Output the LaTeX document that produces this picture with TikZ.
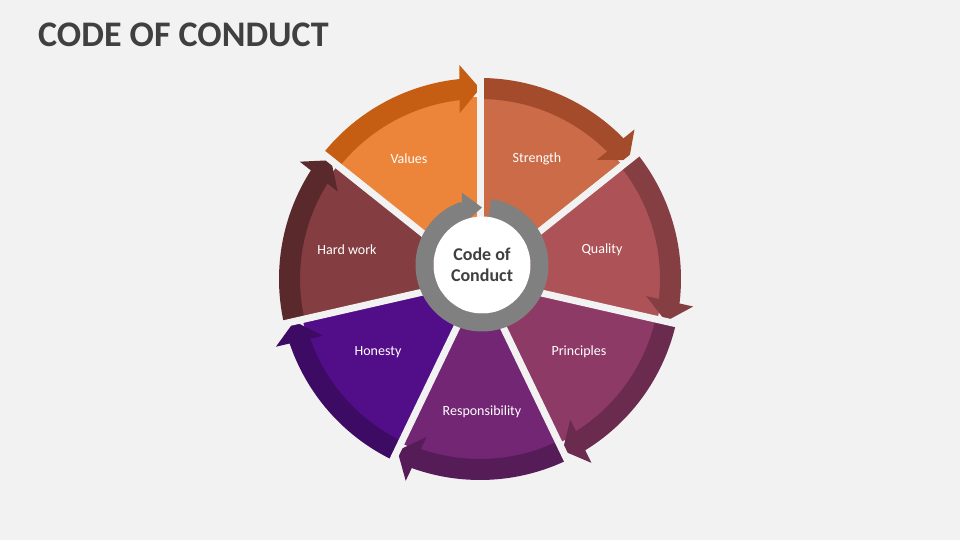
\documentclass[tikz,border=0pt]{standalone}
\usepackage{fontspec}
\setmainfont{Carlito}
\usetikzlibrary{calc}

\definecolor{bgcol}{HTML}{F2F2F2}
\definecolor{titlegrey}{HTML}{404040}
\definecolor{ringgrey}{HTML}{808080}
\definecolor{valL}{HTML}{EC8439}
\definecolor{valD}{HTML}{C55E13}
\definecolor{strL}{HTML}{CB6B47}
\definecolor{strD}{HTML}{A34B2B}
\definecolor{quaL}{HTML}{AD5358}
\definecolor{quaD}{HTML}{853E42}
\definecolor{priL}{HTML}{8E3A66}
\definecolor{priD}{HTML}{6A2B4E}
\definecolor{resL}{HTML}{722674}
\definecolor{resD}{HTML}{561C58}
\definecolor{honL}{HTML}{520E88}
\definecolor{honD}{HTML}{3E0B64}
\definecolor{hwL}{HTML}{843D40}
\definecolor{hwD}{HTML}{5A292B}

\begin{document}
\begin{tikzpicture}[
		x=1pt, y=1pt,
		gap/.style={line width=7pt, bgcol},
		ring/.style={line width=18pt, ringgrey},
		seglabel/.style={text=white, inner sep=0pt, font=\fontsize{14}{16}\selectfont},
		centertext/.style={text=titlegrey, align=center, font=\bfseries\fontsize{18}{21}\selectfont},
		title/.style={text=titlegrey, inner sep=0pt, font=\bfseries\fontsize{36}{40}\selectfont}
	]
	% 背景
	\fill[bgcol] (-480,-261) rectangle (480,279);
	\useasboundingbox (-480,-261) rectangle (480,279);

	% 标题
	\node[title, anchor=base west] (title) at (-442,232) {CODE OF CONDUCT};

	% 扇形和弧形箭头
	\foreach \k/\lc/\dc in {0/valL/valD, 1/strL/strD, 2/quaL/quaD, 3/priL/priD,
			4/resL/resD, 5/honL/honD, 6/hwL/hwD}{
		\pgfmathsetmacro\aa{141.4286-51.4286*\k}
		\pgfmathsetmacro\ab{\aa-51.4286}
		\pgfmathsetmacro\ae{\ab+5}
		\pgfmathsetmacro\ao{\ab+5.5}
		\pgfmathsetmacro\ai{\ab+7}
		\fill[\lc] (0,0) -- (\aa:182) arc[start angle=\aa, end angle=\ab, radius=182] -- cycle;
		\fill[\dc] (\aa:180) arc[start angle=\aa, end angle=\ae, radius=180]
			-- (\ae:201) arc[start angle=\ae, end angle=\aa, radius=201] -- cycle;
		\fill[\dc] (\ai:167) -- (\ab:190.5) -- (\ao:215) -- cycle;
	}

	% 间隙
	\foreach \k in {0,...,6}{
		\pgfmathsetmacro\ag{90-51.4286*\k}
		\draw[gap] (0,0) -- (\ag:240);
	}

	% 中心圆环
	\coordinate (rc) at (2,14);
	\draw[ring] ($(rc)+(82:57.5)$) arc[start angle=82, end angle=-252, radius=57.5];
	\fill[ringgrey] ($(rc)+(105.5:75)$) -- ($(rc)+(90:57.5)$) -- ($(rc)+(116.5:44.5)$) -- cycle;
	\fill[white] (rc) circle (48.5);
	\node[centertext] (core) at (rc) {Code of\\Conduct};

	% 文字
	\foreach \nm/\txt/\px/\py in {values/Values/-71/120, strength/Strength/57/120,
			quality/Quality/122/29, principles/Principles/99/-73,
			responsibility/Responsibility/2/-133, honesty/Honesty/-102/-73,
			hardwork/Hard work/-133/29}{
		\node[seglabel] (\nm) at (\px,\py) {\txt};
	}
\end{tikzpicture}
\end{document}
